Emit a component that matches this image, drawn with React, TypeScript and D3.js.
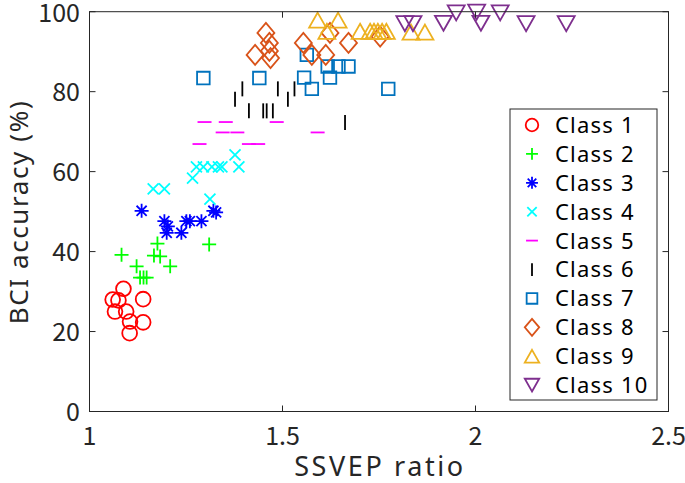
import React from "react";
import * as d3 from "d3";

const classNames = ["Class 1","Class 2","Class 3","Class 4","Class 5","Class 6","Class 7","Class 8","Class 9","Class 10"];
const colors = ["#FF0000","#00FF00","#0000FF","#00FFFF","#FF00FF","#000000","#0072BD","#D95319","#EDB120","#7E2F8E"];
const markers = ["circle","plus","asterisk","x","hline","vline","square","diamond","triUp","triDown"];

const c1x = [1.088,1.060,1.075,1.139,1.066,1.095,1.105,1.139,1.104];
const c1y = [30.7,28.0,27.8,28.1,25.0,25.0,22.5,22.3,19.6];
const c2x = [1.083,1.122,1.131,1.140,1.148,1.167,1.176,1.183,1.209,1.310];
const c2y = [39.2,36.3,33.5,33.5,33.5,39.0,42.0,38.8,36.3,41.8];
const c3x = [1.135,1.194,1.203,1.200,1.238,1.251,1.260,1.290,1.321,1.328];
const c3y = [50.2,47.6,46.3,44.7,44.7,47.6,47.6,47.6,50.2,49.8];
const c4x = [1.165,1.194,1.267,1.277,1.295,1.317,1.334,1.343,1.377,1.387,1.312];
const c4y = [55.7,55.7,58.4,61.2,61.2,61.2,61.2,61.2,64.2,61.2,53.1];
const c5x = [1.298,1.353,1.345,1.383,1.285,1.413,1.437,1.485,1.591];
const c5y = [72.4,72.4,69.8,69.8,66.9,66.9,66.9,72.4,69.8];
const c6x = [1.396,1.377,1.413,1.450,1.459,1.475,1.488,1.514,1.531,1.662];
const c6y = [80.7,78.1,75.2,75.2,75.2,75.2,80.7,78.1,80.7,72.3];
const c7x = [1.295,1.440,1.556,1.563,1.576,1.617,1.623,1.645,1.671,1.774];
const c7y = [83.4,83.4,83.5,89.2,80.7,86.3,83.5,86.3,86.3,80.7];
const c8x = [1.457,1.466,1.429,1.466,1.469,1.554,1.576,1.612,1.623,1.671,1.753];
const c8y = [94.7,92.2,89.2,90.2,88.4,92.2,89.2,89.2,94.7,92.2,93.8];
const c9x = [1.591,1.644,1.615,1.701,1.727,1.737,1.747,1.758,1.769,1.833,1.869];
const c9y = [97.9,97.9,95.1,95.1,95.1,95.1,95.1,95.1,95.1,94.9,94.9];
const c10x = [1.817,1.838,1.917,1.950,2.003,2.014,2.064,2.131,2.235];
const c10y = [97.0,97.0,97.1,99.7,99.9,97.1,99.7,97.0,97.0];

const seriesX = [c1x,c2x,c3x,c4x,c5x,c6x,c7x,c8x,c9x,c10x];
const seriesY = [c1y,c2y,c3y,c4y,c5y,c6y,c7y,c8y,c9y,c10y];

const xTicks = [1, 1.5, 2, 2.5];
const yTicks = [0, 20, 40, 60, 80, 100];

const W = 685, H = 483;
const L = 89.5, R = 668.5, T = 11.7, B = 411.5;
const FONT = "'Noto Sans', 'Noto Sans CJK JP', sans-serif";
const TICKFONT = "'Noto Sans CJK JP', 'Noto Sans', sans-serif";

function markerPath(type: string, k = 1): string {
  const p = d3.path();
  switch (type) {
    case "circle": { const r = 7.4 * k; p.moveTo(r, 0); p.arc(0, 0, r, 0, Math.PI * 2); break; }
    case "plus": { const h = 7 * k; p.moveTo(-h, 0); p.lineTo(h, 0); p.moveTo(0, -h); p.lineTo(0, h); break; }
    case "asterisk": {
      const h = 7 * k, d = h * 0.72;
      p.moveTo(-h, 0); p.lineTo(h, 0); p.moveTo(0, -h); p.lineTo(0, h);
      p.moveTo(-d, -d); p.lineTo(d, d); p.moveTo(-d, d); p.lineTo(d, -d); break;
    }
    case "x": { const h = 5.5 * k; p.moveTo(-h, -h); p.lineTo(h, h); p.moveTo(-h, h); p.lineTo(h, -h); break; }
    case "hline": { const h = 7 * k; p.moveTo(-h, 0); p.lineTo(h, 0); break; }
    case "vline": { const h = 7.5 * k; p.moveTo(0, -h); p.lineTo(0, h); break; }
    case "square": { const h = 6.3 * k; p.rect(-h, -h, 2 * h, 2 * h); break; }
    case "diamond": { const w = 8.5 * k, h = 10 * k; p.moveTo(0, -h); p.lineTo(w, 0); p.lineTo(0, h); p.lineTo(-w, 0); p.closePath(); break; }
    case "triUp": { const w = 8.5 * k, h = 7.5 * k; p.moveTo(0, -h); p.lineTo(w, h); p.lineTo(-w, h); p.closePath(); break; }
    case "triDown": { const w = 8.5 * k, h = 7.5 * k; p.moveTo(0, h); p.lineTo(w, -h); p.lineTo(-w, -h); p.closePath(); break; }
  }
  return p.toString();
}

export default function App() {
  const x = d3.scaleLinear().domain([1, 2.5]).range([L, R]);
  const y = d3.scaleLinear().domain([0, 100]).range([B, T]);
  const axisColor = "#262626";
  const tickLen = 6;
  const legendX = 510, legendY = 109, legendW = 147, legendH = 291;
  const rowH = 28.9;

  return (
    <svg width={W} height={H} style={{ position: "absolute", left: 0, top: 0, background: "#fff" }}>
      <rect x={0} y={0} width={W} height={H} fill="#fff" />
      {seriesX.map((xs, si) =>
        xs.map((v, i) => (
          <path key={`${si}-${i}`} d={markerPath(markers[si])}
            transform={`translate(${x(v)},${y(seriesY[si][i])})`}
            fill="none" stroke={colors[si]} strokeWidth={1.8} />
        ))
      )}
      <rect x={L} y={T} width={R - L} height={B - T} fill="none" stroke={axisColor} strokeWidth={1} />
      {xTicks.map((t) => (
        <g key={`xt${t}`}>
          <line x1={x(t)} x2={x(t)} y1={B} y2={B - tickLen} stroke={axisColor} />
          <line x1={x(t)} x2={x(t)} y1={T} y2={T + tickLen} stroke={axisColor} />
          <text x={x(t)} y={445} textAnchor="middle" fontFamily={TICKFONT} fontSize={25} fill={axisColor}>{String(t)}</text>
        </g>
      ))}
      {yTicks.map((t) => (
        <g key={`yt${t}`}>
          <line x1={L} x2={L + tickLen} y1={y(t)} y2={y(t)} stroke={axisColor} />
          <line x1={R} x2={R - tickLen} y1={y(t)} y2={y(t)} stroke={axisColor} />
          <text x={80} y={Math.max(y(t), 13)} dy="0.36em" textAnchor="end" fontFamily={TICKFONT} fontSize={25} fill={axisColor}>{String(t)}</text>
        </g>
      ))}
      <text x={380} y={476} textAnchor="middle" fontFamily={FONT} fontSize={27} letterSpacing={2.6} fill={axisColor}>SSVEP ratio</text>
      <text transform={`translate(28,212) rotate(-90)`} textAnchor="middle" fontFamily={FONT} fontSize={26} letterSpacing={1.6} fill={axisColor}>BCI accuracy (%)</text>
      <rect x={legendX} y={legendY} width={legendW} height={legendH} fill="#fff" stroke={axisColor} strokeWidth={1} />
      {classNames.map((name, i) => {
        const cy = legendY + 16 + i * rowH;
        return (
          <g key={name}>
            <path d={markerPath(markers[i], 0.85)} transform={`translate(${532},${cy})`} fill="none" stroke={colors[i]} strokeWidth={1.8} />
            <text x={555} y={cy} dy="0.36em" fontFamily={FONT} fontSize={22} letterSpacing={1.2} fill="#000">{name}</text>
          </g>
        );
      })}
    </svg>
  );
}
